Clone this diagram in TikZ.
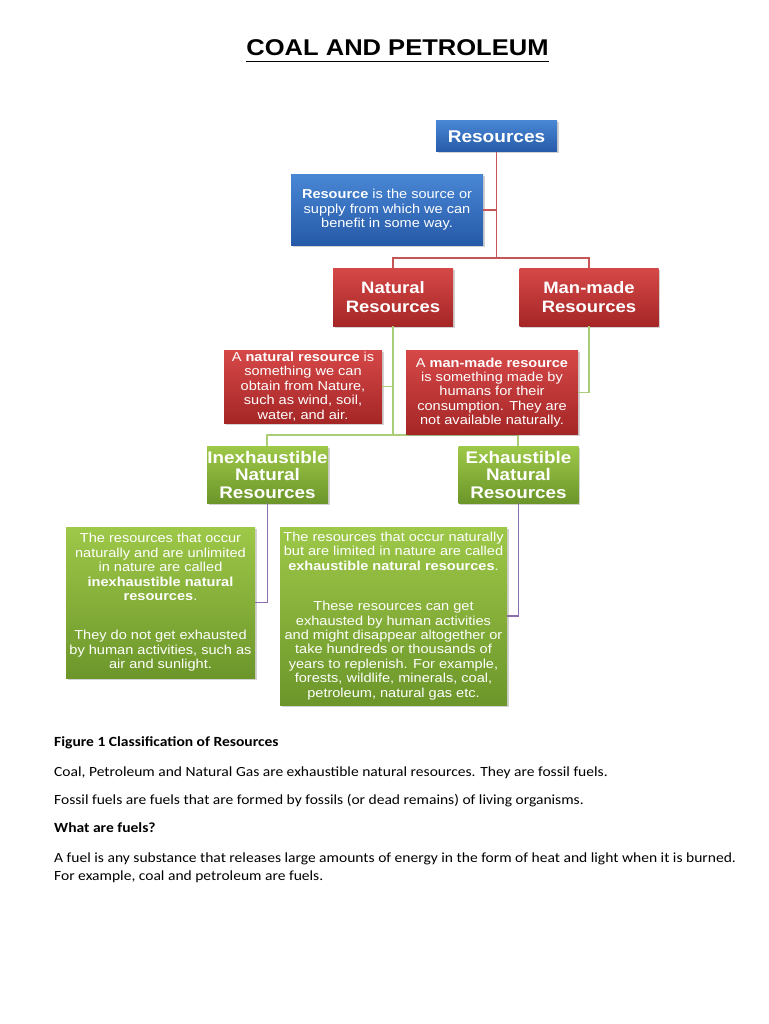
\documentclass[tikz,border=0pt]{standalone}
\usepackage{fontspec}
\newfontfamily\dsans{Liberation Sans}[FakeStretch=1.12]
\newfontfamily\bodyfont{Carlito}[FakeStretch=1.11]
\usetikzlibrary{shadows,shadings}
\definecolor{blueT}{RGB}{72,134,212}
\definecolor{blueB}{RGB}{38,90,168}
\definecolor{redT}{RGB}{214,72,72}
\definecolor{redB}{RGB}{165,38,38}
\definecolor{greenT}{RGB}{158,200,72}
\definecolor{greenB}{RGB}{108,150,42}
\definecolor{redLine}{RGB}{200,85,85}
\definecolor{greenLine}{RGB}{170,205,120}
\definecolor{purpleLine}{RGB}{140,110,175}
\tikzset{
  box/.style={inner sep=0pt, align=center, text=white,
    drop shadow={shadow xshift=1.5pt, shadow yshift=-1.5pt, opacity=0.35}},
  bluebox/.style={box, top color=blueT, bottom color=blueB},
  redbox/.style={box, top color=redT, bottom color=redB},
  greenbox/.style={box, top color=greenT, bottom color=greenB},
  headfont/.style={font=\dsans\bfseries\fontsize{16.5}{18.3}\selectfont},
  gheadfont/.style={font=\dsans\bfseries\fontsize{16.8}{17.5}\selectfont},
  descfont/.style={font=\dsans\fontsize{13}{14.4}\selectfont},
  redl/.style={draw=redLine, line width=1.1pt},
  greenl/.style={draw=greenLine, line width=1.1pt},
  purplel/.style={draw=purpleLine, line width=1.1pt},
  bodytext/.style={anchor=base west, inner sep=0pt, font=\bodyfont\fontsize{14}{16}\selectfont},
}
\begin{document}
\begin{tikzpicture}[x=1pt,y=-1pt]
\fill[white] (0,0) rectangle (768,1024);
\useasboundingbox (0,0) rectangle (768,1024);

% title
\node[anchor=base, inner sep=0pt, font=\dsans\bfseries\fontsize{22.8}{26}\selectfont] (title) at (397.5,56) {COAL AND PETROLEUM};
\draw[line width=1.3pt] ([yshift=-5.5pt]title.base west) -- ([yshift=-5.5pt]title.base east);

\coordinate (j1) at (496.5,258);
\coordinate (j2) at (393,435);

% boxes
\node[bluebox, minimum width=121pt, minimum height=31pt, font=\dsans\bfseries\fontsize{17}{19}\selectfont] (res) at (496.5,136.5) {Resources};
\node[bluebox, descfont, minimum width=192pt, minimum height=70pt] (bdesc) at (387,210) {\textbf{Resource} is the source or\\supply from which we can\\benefit in some way.};

\node[redbox, headfont, minimum width=120pt, minimum height=58pt] (nat) at (393,297) {Natural\\Resources};
\node[redbox, headfont, minimum width=139pt, minimum height=58pt] (man) at (589,297) {Man-made\\Resources};

\draw[redl] (res.south) -- (j1) -| (nat.north);
\draw[redl] (j1) -| (man.north);
\draw[redl] (bdesc.east) -- (bdesc.east -| res.south);

\draw[greenl] (nat.south) -- (j2) -| (267,446);
\draw[greenl] (j2) -| (518,446);

\node[redbox, descfont, minimum width=158pt, minimum height=73pt] (ndesc) at (303,386.5) {A \textbf{natural resource} is\\something we can\\obtain from Nature,\\such as wind, soil,\\water, and air.};
\draw[greenl] (ndesc.east) -- (ndesc.east -| nat.south);

\node[redbox, descfont, minimum width=172pt, minimum height=84pt] (mdesc) at (492,392.5) {A \textbf{man-made resource}\\is something made by\\humans for their\\consumption. They are\\not available naturally.};
\draw[greenl] (man.south) |- (mdesc.east);

\node[greenbox, gheadfont, minimum width=121pt, minimum height=57pt] (inex) at (267.5,474.5) {Inexhaustible\\Natural\\Resources};
\node[greenbox, gheadfont, minimum width=120pt, minimum height=57pt] (exh) at (518.5,474.5) {Exhaustible\\Natural\\Resources};

\node[greenbox, descfont, minimum width=189pt, minimum height=151pt] (g1) at (160.5,602.5) {The resources that occur\\naturally and are unlimited\\in nature are called\\\textbf{inexhaustible natural}\\\textbf{resources}.\\[25pt]They do not get exhausted\\by human activities, such as\\air and sunlight.};
\node[greenbox, descfont, minimum width=227pt, minimum height=178pt] (g2) at (393.5,616) {The resources that occur naturally\\but are limited in nature are called\\\textbf{exhaustible natural resources}.\\[26pt]These resources can get\\exhausted by human activities\\and might disappear altogether or\\take hundreds or thousands of\\years to replenish. For example,\\forests, wildlife, minerals, coal,\\petroleum, natural gas etc.};

\draw[purplel] (inex.south) |- (g1.east);
\draw[purplel] (exh.south) |- (g2.east);

% body text
\node[bodytext] (t1) at (54,746) {\bfseries Figure 1 Classification of Resources};
\node[bodytext] (t2) at (54,776) {Coal, Petroleum and Natural Gas are exhaustible natural resources. They are fossil fuels.};
\node[bodytext] (t3) at (54,804) {Fossil fuels are fuels that are formed by fossils (or dead remains) of living organisms.};
\node[bodytext] (t4) at (54,832) {\bfseries What are fuels?};
\node[bodytext] (t5) at (54,862) {A fuel is any substance that releases large amounts of energy in the form of heat and light when it is burned.};
\node[bodytext] (t6) at (54,880) {For example, coal and petroleum are fuels.};
\end{tikzpicture}
\end{document}
